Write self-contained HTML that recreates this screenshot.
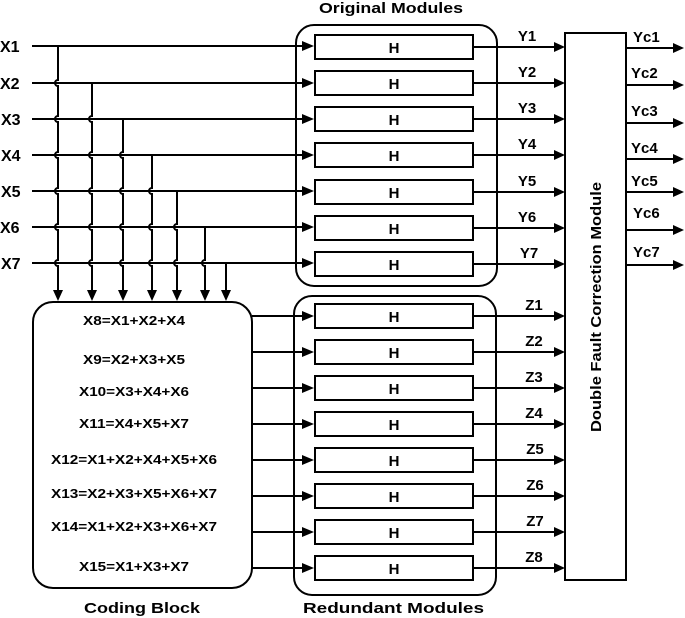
<!DOCTYPE html>
<html><head><meta charset="utf-8"><style>
html,body{margin:0;padding:0;background:#fff;}
svg{display:block;}
text{font-family:"Liberation Sans",sans-serif;font-weight:bold;fill:#000;}
</style></head><body>
<svg width="685" height="618" viewBox="0 0 685 618" xmlns="http://www.w3.org/2000/svg">
<g stroke="#000" stroke-width="2" fill="none">
<line x1="32" y1="46" x2="304" y2="46"/>
<line x1="32" y1="83" x2="304" y2="83"/>
<line x1="32" y1="119" x2="304" y2="119"/>
<line x1="32" y1="155" x2="304" y2="155"/>
<line x1="32" y1="191" x2="304" y2="191"/>
<line x1="32" y1="227" x2="304" y2="227"/>
<line x1="32" y1="263" x2="304" y2="263"/>
<path d="M58 46 V80 A3 3 0 0 0 58 86 V116 A3 3 0 0 0 58 122 V152 A3 3 0 0 0 58 158 V188 A3 3 0 0 0 58 194 V224 A3 3 0 0 0 58 230 V260 A3 3 0 0 0 58 266 V292"/>
<path d="M92 83 V116 A3 3 0 0 0 92 122 V152 A3 3 0 0 0 92 158 V188 A3 3 0 0 0 92 194 V224 A3 3 0 0 0 92 230 V260 A3 3 0 0 0 92 266 V292"/>
<path d="M123 119 V152 A3 3 0 0 0 123 158 V188 A3 3 0 0 0 123 194 V224 A3 3 0 0 0 123 230 V260 A3 3 0 0 0 123 266 V292"/>
<path d="M152 155 V188 A3 3 0 0 0 152 194 V224 A3 3 0 0 0 152 230 V260 A3 3 0 0 0 152 266 V292"/>
<path d="M177 191 V224 A3 3 0 0 0 177 230 V260 A3 3 0 0 0 177 266 V292"/>
<path d="M205 227 V260 A3 3 0 0 0 205 266 V292"/>
<path d="M226 263 V292"/>
<rect x="33" y="302" width="219" height="286" rx="20"/>
<rect x="296" y="25" width="201" height="261" rx="18"/>
<rect x="294" y="296" width="202" height="299" rx="18"/>
<rect x="565" y="33" width="61" height="547"/>
<rect x="315" y="35" width="158" height="24"/>
<rect x="315" y="71" width="158" height="24"/>
<rect x="315" y="107" width="158" height="24"/>
<rect x="315" y="143" width="158" height="24"/>
<rect x="315" y="180" width="158" height="24"/>
<rect x="315" y="216" width="158" height="24"/>
<rect x="315" y="252" width="158" height="24"/>
<rect x="315" y="304" width="158" height="24"/>
<rect x="315" y="340" width="158" height="24"/>
<rect x="315" y="376" width="158" height="24"/>
<rect x="315" y="412" width="158" height="24"/>
<rect x="315" y="448" width="158" height="24"/>
<rect x="315" y="484" width="158" height="24"/>
<rect x="315" y="520" width="158" height="24"/>
<rect x="315" y="556" width="158" height="24"/>
<line x1="252" y1="316" x2="304" y2="316"/>
<line x1="252" y1="352" x2="304" y2="352"/>
<line x1="252" y1="388" x2="304" y2="388"/>
<line x1="252" y1="424" x2="304" y2="424"/>
<line x1="252" y1="460" x2="304" y2="460"/>
<line x1="252" y1="496" x2="304" y2="496"/>
<line x1="252" y1="532" x2="304" y2="532"/>
<line x1="252" y1="568" x2="304" y2="568"/>
<line x1="473" y1="47" x2="556" y2="47"/>
<line x1="473" y1="83" x2="556" y2="83"/>
<line x1="473" y1="119" x2="556" y2="119"/>
<line x1="473" y1="155" x2="556" y2="155"/>
<line x1="473" y1="192" x2="556" y2="192"/>
<line x1="473" y1="228" x2="556" y2="228"/>
<line x1="473" y1="264" x2="556" y2="264"/>
<line x1="473" y1="316" x2="556" y2="316"/>
<line x1="473" y1="352" x2="556" y2="352"/>
<line x1="473" y1="388" x2="556" y2="388"/>
<line x1="473" y1="424" x2="556" y2="424"/>
<line x1="473" y1="460" x2="556" y2="460"/>
<line x1="473" y1="496" x2="556" y2="496"/>
<line x1="473" y1="532" x2="556" y2="532"/>
<line x1="473" y1="568" x2="556" y2="568"/>
<line x1="626" y1="48" x2="675" y2="48"/>
<line x1="626" y1="85" x2="675" y2="85"/>
<line x1="626" y1="123" x2="675" y2="123"/>
<line x1="626" y1="159" x2="675" y2="159"/>
<line x1="626" y1="192" x2="675" y2="192"/>
<line x1="626" y1="230" x2="675" y2="230"/>
<line x1="626" y1="265" x2="675" y2="265"/>
</g>
<g fill="#000">
<polygon points="53,290 63,290 58,301"/>
<polygon points="87,290 97,290 92,301"/>
<polygon points="118,290 128,290 123,301"/>
<polygon points="147,290 157,290 152,301"/>
<polygon points="172,290 182,290 177,301"/>
<polygon points="200,290 210,290 205,301"/>
<polygon points="221,290 231,290 226,301"/>
<polygon points="302,41 302,51 314,46"/>
<polygon points="302,78 302,88 314,83"/>
<polygon points="302,114 302,124 314,119"/>
<polygon points="302,150 302,160 314,155"/>
<polygon points="302,186 302,196 314,191"/>
<polygon points="302,222 302,232 314,227"/>
<polygon points="302,258 302,268 314,263"/>
<polygon points="302,311 302,321 314,316"/>
<polygon points="302,347 302,357 314,352"/>
<polygon points="302,383 302,393 314,388"/>
<polygon points="302,419 302,429 314,424"/>
<polygon points="302,455 302,465 314,460"/>
<polygon points="302,491 302,501 314,496"/>
<polygon points="302,527 302,537 314,532"/>
<polygon points="302,563 302,573 314,568"/>
<polygon points="554,42 554,52 565,47"/>
<polygon points="554,78 554,88 565,83"/>
<polygon points="554,114 554,124 565,119"/>
<polygon points="554,150 554,160 565,155"/>
<polygon points="554,187 554,197 565,192"/>
<polygon points="554,223 554,233 565,228"/>
<polygon points="554,259 554,269 565,264"/>
<polygon points="554,311 554,321 565,316"/>
<polygon points="554,347 554,357 565,352"/>
<polygon points="554,383 554,393 565,388"/>
<polygon points="554,419 554,429 565,424"/>
<polygon points="554,455 554,465 565,460"/>
<polygon points="554,491 554,501 565,496"/>
<polygon points="554,527 554,537 565,532"/>
<polygon points="554,563 554,573 565,568"/>
<polygon points="673,43 673,53 684,48"/>
<polygon points="673,80 673,90 684,85"/>
<polygon points="673,118 673,128 684,123"/>
<polygon points="673,154 673,164 684,159"/>
<polygon points="673,187 673,197 684,192"/>
<polygon points="673,225 673,235 684,230"/>
<polygon points="673,260 673,270 684,265"/>
</g>
<g font-size="16">
<text x="0" y="52">X1</text>
<text x="0" y="89">X2</text>
<text x="1" y="125">X3</text>
<text x="1" y="161">X4</text>
<text x="1" y="197">X5</text>
<text x="0" y="233">X6</text>
<text x="1" y="269">X7</text>
</g>
<g font-size="15" text-anchor="middle">
<text x="394" y="53">H</text><text x="394" y="89">H</text><text x="394" y="125">H</text><text x="394" y="161">H</text><text x="394" y="198">H</text><text x="394" y="234">H</text><text x="394" y="270">H</text>
<text x="394" y="322">H</text><text x="394" y="358">H</text><text x="394" y="394">H</text><text x="394" y="430">H</text><text x="394" y="466">H</text><text x="394" y="502">H</text><text x="394" y="538">H</text><text x="394" y="574">H</text>
</g>
<g font-size="15" text-anchor="middle">
<text x="527" y="41">Y1</text><text x="527" y="77">Y2</text><text x="527" y="113">Y3</text><text x="527" y="149">Y4</text><text x="527" y="186">Y5</text><text x="527" y="222">Y6</text><text x="529" y="258">Y7</text>
<text x="534" y="310">Z1</text><text x="534" y="346">Z2</text><text x="534" y="382">Z3</text><text x="534" y="418">Z4</text><text x="535" y="454">Z5</text><text x="535" y="490">Z6</text><text x="535" y="526">Z7</text><text x="534" y="562">Z8</text>
</g>
<g font-size="15">
<text x="633" y="42">Yc1</text><text x="631" y="78">Yc2</text><text x="631" y="116">Yc3</text><text x="631" y="153">Yc4</text><text x="631" y="186">Yc5</text><text x="633" y="218">Yc6</text><text x="633" y="257">Yc7</text>
</g>
<g font-size="13" text-anchor="middle">
<text x="134" y="325" textLength="102" lengthAdjust="spacingAndGlyphs">X8=X1+X2+X4</text>
<text x="134" y="364" textLength="102" lengthAdjust="spacingAndGlyphs">X9=X2+X3+X5</text>
<text x="134" y="396" textLength="110" lengthAdjust="spacingAndGlyphs">X10=X3+X4+X6</text>
<text x="134" y="428" textLength="110" lengthAdjust="spacingAndGlyphs">X11=X4+X5+X7</text>
<text x="134" y="464" textLength="166" lengthAdjust="spacingAndGlyphs">X12=X1+X2+X4+X5+X6</text>
<text x="134" y="498" textLength="166" lengthAdjust="spacingAndGlyphs">X13=X2+X3+X5+X6+X7</text>
<text x="134" y="531" textLength="166" lengthAdjust="spacingAndGlyphs">X14=X1+X2+X3+X6+X7</text>
<text x="134" y="571" textLength="110" lengthAdjust="spacingAndGlyphs">X15=X1+X3+X7</text>
</g>
<text x="319" y="13" font-size="15" textLength="144" lengthAdjust="spacingAndGlyphs">Original Modules</text>
<text x="303" y="613" font-size="15" textLength="181" lengthAdjust="spacingAndGlyphs">Redundant Modules</text>
<text x="84" y="613" font-size="15" textLength="116" lengthAdjust="spacingAndGlyphs">Coding Block</text>
<text transform="translate(601,432) rotate(-90)" font-size="15" textLength="250" lengthAdjust="spacingAndGlyphs">Double Fault Correction Module</text>
</svg>
</body></html>
